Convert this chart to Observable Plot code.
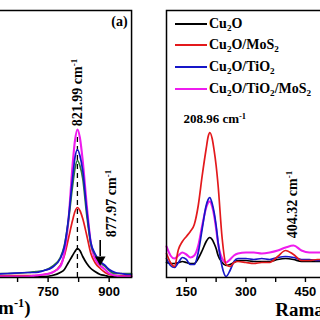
<!DOCTYPE html>
<html>
<head>
<meta charset="utf-8">
<script src="https://cdn.jsdelivr.net/npm/d3@7"></script>
<script src="https://cdn.jsdelivr.net/npm/@observablehq/plot@0.6"></script>
<style>
  html, body { margin: 0; padding: 0; background: #fff; }
  #fig { position: relative; width: 320px; height: 320px; overflow: hidden; background: #fff; }
  #fig svg { position: absolute; top: 0; overflow: visible; background: transparent; max-width: none !important; }
  .legend { position: absolute; left: 175px; top: 13px; font: bold 14px "Liberation Serif", "Times New Roman", serif; color: #000; }
  .legend .row { display: flex; align-items: center; height: 21.6px; white-space: nowrap; }
  .legend .sw { width: 32px; height: 0; border-top: 2px solid; margin-right: 2px; }
  .legend sub { font-size: 65%; vertical-align: -0.3em; line-height: 0; }
</style>
</head>
<body>
<div id="fig"></div>
<script>
// ---- Panel (a): spectra around the 822 cm-1 band ----
const shiftA = [600, 650, 700, 720, 740, 760, 780, 790, 800, 810, 816, 822, 828, 835, 845, 855, 865, 878, 890, 900, 915, 930, 945, 955];
const aCu2O        = [1, 1, 1, 1, 1, 2, 5, 8, 15, 22, 26, 29, 27, 21, 14, 9, 6, 3, 2, 1, 1, 1, 1, 1];
const aCu2OMoS2    = [2, 2, 2, 2, 3, 5, 12, 22, 39, 57, 66, 70, 67, 59, 42, 24, 15, 9, 5, 3, 2, 2, 2, 2];
const aOther       = [4, 4, 5, 6, 7, 11, 20, 32, 57, 91, 109, 117, 112, 99, 62, 33, 23, 15, 11, 7, 4, 4, 4, 4];
const aCu2OTiO2    = [3, 4, 5, 5, 7, 10, 19, 31, 59, 99, 120, 128, 122, 107, 67, 35, 24, 16, 12, 8, 5, 4, 3, 3];
const aCu2OTiO2MoS2 = [1, 1, 1, 2, 3, 5, 11, 25, 57, 112, 137, 148, 140, 117, 72, 34, 19, 12, 8, 4, 2, 1, 1, 1];
const peakA = 821.99;
const shoulderA = 877.97;

// ---- Panel (b): low-wavenumber Raman spectra ----
const shiftB = [100, 110, 120, 130, 140, 150, 160, 170, 180, 190, 200, 205, 209, 215, 220, 225, 230, 240, 250, 260, 270, 280, 300, 320, 340, 360, 380, 400, 420, 440, 460, 480, 500];
const bCu2O         = [15, 14, 14, 15, 16, 15, 14, 14, 19, 27, 36, 39, 40, 38, 34, 29, 22, 15, 12, 13, 15, 17, 17, 16, 16, 16, 18, 19, 18, 16, 16, 16, 16];
const bCu2OMoS2     = [24, 15, 11, 28, 36, 41, 46, 53, 72, 102, 129, 141, 145, 139, 127, 112, 92, 40, 13, 11, 15, 16, 15, 14, 15, 15, 21, 27, 23, 17, 17, 18, 18];
const bCu2OTiO2     = [19, 12, 10, 15, 20, 18, 13, 13, 25, 49, 72, 78, 80, 74, 65, 52, 35, 11, 1, 7, 16, 19, 19, 18, 19, 18, 20, 21, 20, 18, 18, 17, 17];
const bCu2OTiO2MoS2 = [31, 22, 19, 22, 25, 23, 20, 22, 32, 52, 70, 75, 76, 71, 62, 49, 34, 19, 15, 18, 22, 24, 25, 25, 24, 25, 27, 30, 32, 27, 25, 25, 25];
const peaksB = [208.96, 404.32];

// ---- Names, colours, ticks ----
const names = ["Cu₂O", "Cu₂O/MoS₂", "Cu₂O/TiO₂", "Cu₂O/TiO₂/MoS₂", "other"];
const colors = ["#000000", "#e3191c", "#1616c8", "#ee1cee", "#2f7d3a"];
const majorTicksA = [750, 900];
const minorTicksA = [675, 825];
const majorTicksB = [150, 300, 450];
const minorTicksB = [225, 375];
const axisTitle = "Raman shift (cm⁻¹)";
const panelTag = "(a)";

const serif = "Liberation Serif, Times New Roman, serif";
const sans = "Liberation Sans, Arial, sans-serif";

function tidy(xs, rows) {
  return rows.flatMap(([name, ys]) => ys.map((v, i) => ({shift: xs[i], intensity: v, name})));
}

const dataA = tidy(shiftA, [
  [names[0], aCu2O], [names[1], aCu2OMoS2], [names[3], aCu2OTiO2MoS2], [names[4], aOther], [names[2], aCu2OTiO2]
]);
const dataB = tidy(shiftB, [
  [names[3], bCu2OTiO2MoS2], [names[0], bCu2O], [names[2], bCu2OTiO2], [names[1], bCu2OMoS2]
]);

const cmLabel = (v) => `${v.toFixed(2)} cm⁻¹`;

function axes(major, minor) {
  return [
    Plot.axisX({ticks: major, tickSize: 5, tickPadding: 4, fontSize: 13, fontWeight: "bold", fontFamily: sans, label: null, strokeWidth: 1.4}),
    Plot.axisX({ticks: minor, tickSize: 5, tickFormat: () => "", label: null, strokeWidth: 1.4})
  ];
}

const common = {
  height: 320, marginTop: 10, marginBottom: 43, marginLeft: 20, marginRight: 20,
  y: {domain: [0, 267], axis: null},
  color: {domain: names, range: colors},
  style: {color: "#000", background: "transparent", overflow: "visible", maxWidth: "none"}
};

// Panel (a): x scale spans 100–955 cm-1, only its right end is in view
const innerA = 855 * 0.4071;
const plotA = Plot.plot({
  ...common,
  width: 40 + innerA,
  x: {domain: [100, 955], axis: null},
  marks: [
    ...axes(majorTicksA, minorTicksA),
    Plot.ruleX([peakA], {x: (d) => d, y1: 0, y2: 142, stroke: "#000", strokeWidth: 1.3, strokeDasharray: "5,4"}),
    Plot.line(dataA, {x: "shift", y: "intensity", z: "name", stroke: "name", curve: "monotone-x", strokeWidth: (d) => d.name === names[3] ? 2.1 : 1.7}),
    Plot.text([peakA], {x: (d) => d, y: 185, text: cmLabel, rotate: -90, fontSize: 14, fontWeight: "bold", fontFamily: serif}),
    Plot.text([shoulderA], {x: (d) => d, y: 74, dx: 11, text: cmLabel, rotate: -90, fontSize: 14, fontWeight: "bold", fontFamily: serif}),
    Plot.ruleX([shoulderA], {x: (d) => d, y1: 37, y2: 21, stroke: "#000", strokeWidth: 1.6}),
    Plot.dot([shoulderA], {x: (d) => d, y: 18, symbol: "triangle", rotate: 180, r: 4, fill: "#000", stroke: null}),
    Plot.text([panelTag], {frameAnchor: "top-right", textAnchor: "end", lineAnchor: "top", dx: -4, dy: 6, fontSize: 14, fontWeight: "bold", fontFamily: serif}),
    Plot.text([axisTitle], {frameAnchor: "bottom", lineAnchor: "middle", textAnchor: "end", dx: 73, dy: 30, fontSize: 19, fontWeight: "bold", fontFamily: serif}),
    Plot.frame({stroke: "#000", strokeWidth: 1.5})
  ]
});

// Panel (b)
const innerB = 855 * 0.397;
const plotB = Plot.plot({
  ...common,
  width: 40 + innerB,
  x: {domain: [100, 955], axis: null},
  marks: [
    ...axes(majorTicksB, minorTicksB),
    Plot.line(dataB, {x: "shift", y: "intensity", z: "name", stroke: "name", curve: "monotone-x", strokeWidth: (d) => d.name === names[3] ? 2.1 : 1.7}),
    Plot.text([peaksB[0]], {x: (d) => d, y: 159, dx: 5, text: cmLabel, fontSize: 13, fontWeight: "bold", fontFamily: serif}),
    Plot.text([peaksB[1]], {x: (d) => d, y: 73, dx: 5, text: cmLabel, rotate: -90, fontSize: 14, fontWeight: "bold", fontFamily: serif}),
    Plot.text([axisTitle], {frameAnchor: "bottom", lineAnchor: "middle", textAnchor: "start", dx: -61, dy: 32, fontSize: 19, fontWeight: "bold", fontFamily: serif}),
    Plot.frame({stroke: "#000", strokeWidth: 1.5})
  ]
});

// Turn Unicode super/subscript characters into shifted tspans
const SUPER = {"⁻": "-", "¹": "1"};
const SUB = {"₂": "2"};
function scriptify(svg) {
  const ns = "http://www.w3.org/2000/svg";
  for (const t of svg.querySelectorAll("text")) {
    const s = t.textContent;
    if (![...s].some((c) => c in SUPER || c in SUB)) continue;
    while (t.firstChild) t.removeChild(t.firstChild);
    let run = "", kind = null;
    const flush = () => {
      if (!run) return;
      if (kind === "base") t.appendChild(document.createTextNode(run));
      else {
        const sp = document.createElementNS(ns, "tspan");
        sp.setAttribute("baseline-shift", kind === "super" ? "55%" : "-25%");
        sp.style.fontSize = "65%";
        sp.textContent = run;
        t.appendChild(sp);
      }
      run = "";
    };
    for (const c of s) {
      const k = c in SUPER ? "super" : c in SUB ? "sub" : "base";
      if (k !== kind) { flush(); kind = k; }
      run += SUPER[c] ?? SUB[c] ?? c;
    }
    flush();
  }
}
scriptify(plotA);
scriptify(plotB);

const fig = document.getElementById("fig");
plotA.style.left = (47.4 - 650 * 0.4071 - 20) + "px";
plotB.style.left = (166 - 20) + "px";
fig.appendChild(plotA);
fig.appendChild(plotB);

// Legend for panel (b)
const legend = document.createElement("div");
legend.className = "legend";
legend.innerHTML = names.slice(0, 4).map((n, i) =>
  `<div class="row"><span class="sw" style="border-color:${colors[i]}"></span><span>${n.replace(/₂/g, "<sub>2</sub>")}</span></div>`
).join("");
fig.appendChild(legend);
</script>
</body>
</html>
